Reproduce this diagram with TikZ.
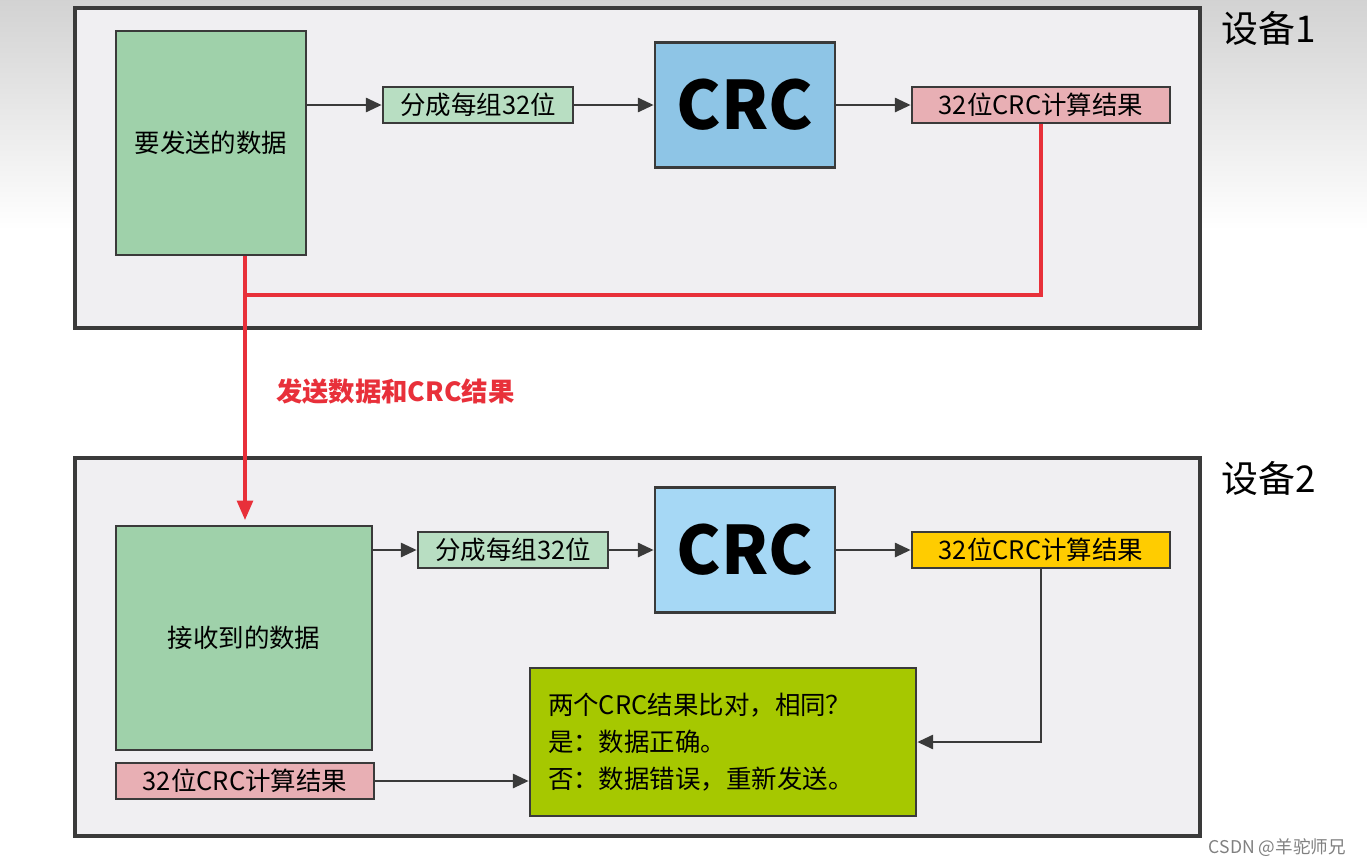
\documentclass[tikz,border=0pt]{standalone}
\usepackage{fontspec}
\setmainfont{Noto Sans CJK SC}
\usetikzlibrary{arrows.meta}
\definecolor{frame}{HTML}{3A3A3A}
\definecolor{panel}{HTML}{F0EFF2}
\definecolor{datag}{HTML}{9FD1AA}
\definecolor{splitg}{HTML}{B8DEC2}
\definecolor{crcb}{HTML}{8EC5E6}
\definecolor{crcb2}{HTML}{A6D8F5}
\definecolor{resp}{HTML}{E8AFB4}
\definecolor{resy}{HTML}{FFCC00}
\definecolor{cmpg}{HTML}{A6C800}
\definecolor{redl}{HTML}{E8303A}
\begin{document}
\begin{tikzpicture}[x=0.02cm,y=-0.02cm,
  box/.style={draw=frame,line width=1.5pt,inner sep=0pt,align=center},
  lbl/.style={font=\fontsize{14.5}{16}\selectfont},
  crc/.style={box,font=\fontsize{38}{40}\selectfont\bfseries},
  arr/.style={-{Triangle[length=9pt,width=8pt]},line width=1.5pt,draw=frame},
  redarr/.style={line width=1.8pt,draw=redl}]
\useasboundingbox (0,0) rectangle (1367,866);
\shade[top color=gray!35,bottom color=white] (0,0) rectangle (1367,230);
% device frames
\draw[frame,line width=2pt,fill=panel] (75,8) rectangle (1200,328);
\draw[frame,line width=2pt,fill=panel] (75,458) rectangle (1200,836);
\node[font=\fontsize{21}{24}\selectfont,anchor=west] (dev1) at (1215,28) {设备1};
\node[font=\fontsize{21}{24}\selectfont,anchor=west] (dev2) at (1215,478) {设备2};
% device 1
\node[box,lbl,fill=datag,minimum width=190*0.02cm,minimum height=224*0.02cm] (data1) at (211,143) {要发送的数据};
\node[box,lbl,fill=splitg,minimum width=190*0.02cm,minimum height=36*0.02cm] (split1) at (478,105) {分成每组32位};
\node[crc,fill=crcb,minimum width=180*0.02cm,minimum height=125*0.02cm] (crc1) at (745,105) {CRC};
\node[box,lbl,fill=resp,minimum width=258*0.02cm,minimum height=36*0.02cm] (res1) at (1041,105) {32位CRC计算结果};
\draw[arr] (data1.east|-split1) -- (split1);
\draw[arr] (split1) -- (crc1);
\draw[arr] (crc1) -- (res1);
% device 2
\node[box,lbl,fill=datag,minimum width=256*0.02cm,minimum height=224*0.02cm] (data2) at (244,638) {接收到的数据};
\node[box,lbl,fill=splitg,minimum width=190*0.02cm,minimum height=36*0.02cm] (split2) at (513,550) {分成每组32位};
\node[crc,fill=crcb2,minimum width=180*0.02cm,minimum height=125*0.02cm] (crc2) at (745,550) {CRC};
\node[box,lbl,fill=resy,minimum width=258*0.02cm,minimum height=36*0.02cm] (res2) at (1041,550) {32位CRC计算结果};
\node[box,lbl,fill=resp,minimum width=258*0.02cm,minimum height=36*0.02cm] (res3) at (245,781) {32位CRC计算结果};
\node[box,font=\fontsize{14.5}{21}\selectfont,fill=cmpg,minimum width=386*0.02cm,minimum height=148*0.02cm,align=left,text width=350*0.02cm] (cmp) at (723,742)
  {两个CRC结果比对，相同？\\是：数据正确。\\否：数据错误，重新发送。};
\draw[arr] (data2.east|-split2) -- (split2);
\draw[arr] (split2) -- (crc2);
\draw[arr] (crc2) -- (res2);
\draw[arr] (res2.south) -- (res2.south|-cmp) -- (cmp.east);
\draw[arr] (res3) -- (cmp.west|-res3);
% transfer
\coordinate (j) at (245,295);
\draw[redarr] (res1.south) -- (res1.south|-j) -- (j);
\draw[redarr,-{Triangle[length=11pt,width=9pt]}] (data1.south-|j) -- (245,520);
\node[text=redl,font=\fontsize{15}{17}\selectfont\bfseries,anchor=west] (send) at (270,392) {发送数据和CRC结果};
\node[text=gray,font=\fontsize{10}{12}\selectfont,anchor=east] (wm) at (1352,848) {CSDN @羊驼师兄};
\end{tikzpicture}
\end{document}
